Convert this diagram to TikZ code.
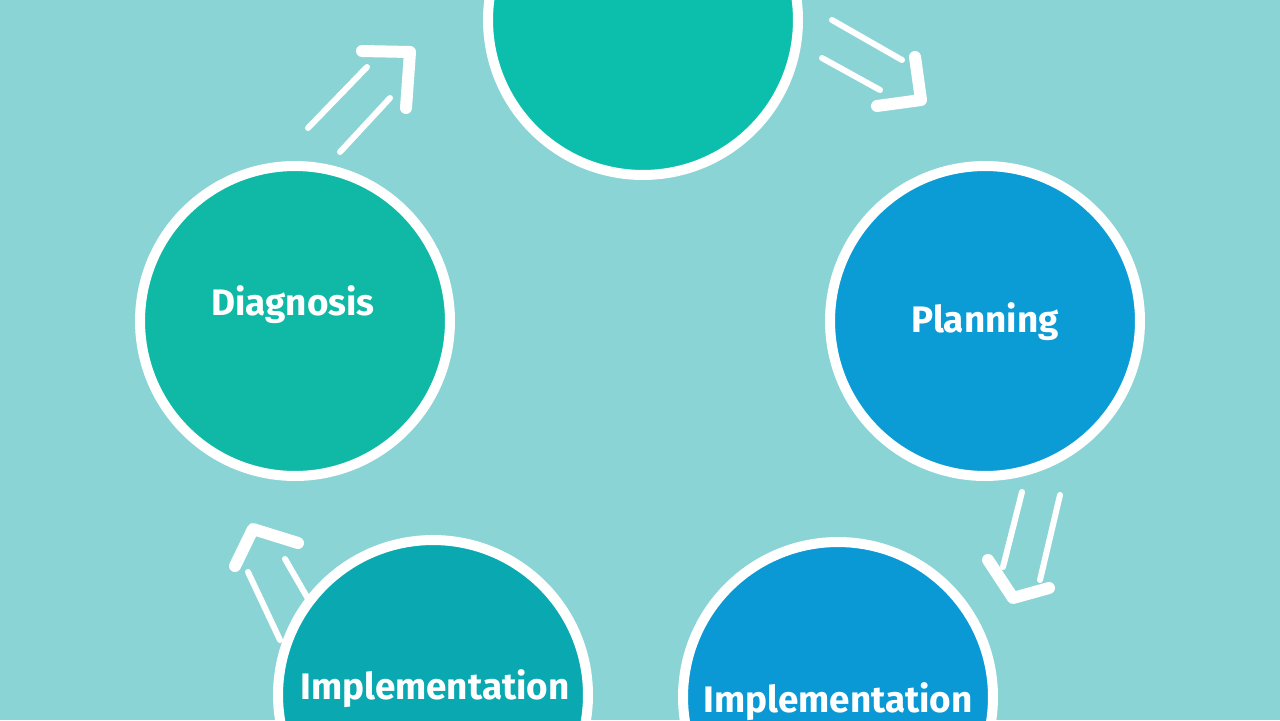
\documentclass[tikz,border=0pt]{standalone}
\usepackage{fontspec}
\setmainfont{Fira Sans}
\usepackage{tikz}
\definecolor{bgteal}{RGB}{139,212,214}
\definecolor{topteal}{RGB}{12,191,173}
\definecolor{diagteal}{RGB}{16,184,166}
\definecolor{impteal}{RGB}{10,169,178}
\definecolor{planblue}{RGB}{11,155,213}
\definecolor{impblue}{RGB}{11,153,213}
\tikzset{
  stage/.style={circle,draw=white,line width=0.2cm,minimum size=6.2cm,inner sep=0pt},
  stagetext/.style={text=white,font=\fontsize{21}{25}\selectfont\bfseries},
  shaft/.style={white,line width=0.12cm,line cap=round},
  tip/.style={white,line width=0.24cm,line cap=round,line join=round}
}
\begin{document}
\begin{tikzpicture}[x=0.02cm,y=-0.02cm]
\useasboundingbox (0,0) rectangle (1280,720);
\fill[bgteal] (0,0) rectangle (1280,720);
\clip (0,0) rectangle (1280,720);

\node[stage,fill=topteal] (top) at (643,20) {};
\node[stage,fill=diagteal] (diag) at (295,321) {};
\node[stage,fill=planblue] (plan) at (985,321) {};
\node[stage,fill=impteal] (impl) at (433,695) {};
\node[stage,fill=impblue] (impr) at (838,697) {};

\node[stagetext] (diagtext) at (293,305) {Diagnosis};
\node[stagetext] (plantext) at (985,322) {Planning};
\node[stagetext] (impltext) at (435,689) {Implementation};
\node[stagetext] (imprtext) at (838,702) {Implementation};

% diagnosis -> top
\coordinate (a1) at (308,128); \coordinate (a2) at (367,67);
\coordinate (a3) at (340,152); \coordinate (a4) at (390,98);
\draw[shaft] (a1) -- (a2);
\draw[shaft] (a3) -- (a4);
\draw[tip] (362,51) -- (410,52) -- (406,108);

% top -> planning
\coordinate (b1) at (832,20); \coordinate (b2) at (902,60);
\coordinate (b3) at (822,58); \coordinate (b4) at (880,90);
\draw[shaft] (b1) -- (b2);
\draw[shaft] (b3) -- (b4);
\draw[tip] (915,57) -- (921,100) -- (877,106);

% planning -> implementation
\coordinate (c1) at (1022,492); \coordinate (c2) at (1003,567);
\coordinate (c3) at (1060,495); \coordinate (c4) at (1040,580);
\draw[shaft] (c1) -- (c2);
\draw[shaft] (c3) -- (c4);
\draw[tip] (988,560) -- (1013,598) -- (1049,588);

% implementation -> diagnosis
\coordinate (d1) at (280,640); \coordinate (d2) at (248,572);
\coordinate (d3) at (307,597); \coordinate (d4) at (285,559);
\draw[shaft] (d1) -- (d2);
\draw[shaft] (d3) -- (d4);
\draw[tip] (235,566) -- (253,529) -- (298,543);
\end{tikzpicture}
\end{document}
